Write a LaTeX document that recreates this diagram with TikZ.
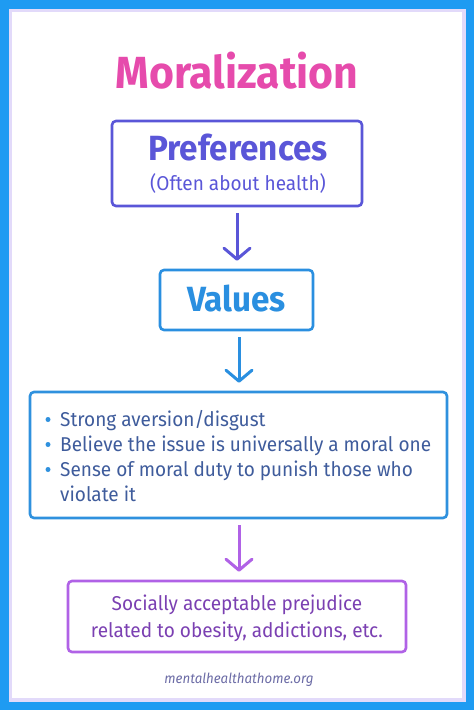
\documentclass[tikz,border=0pt]{standalone}
\usepackage{fontspec}
\setmainfont{Fira Sans}[FakeStretch=0.95]
\usetikzlibrary{arrows.meta}
\definecolor{frameblue}{HTML}{1E9BF2}
\definecolor{framelav}{HTML}{E2DAFA}
\definecolor{titlepink}{HTML}{E64BAC}
\definecolor{indigo}{HTML}{5A56D8}
\definecolor{valblue}{HTML}{2A8FE0}
\definecolor{bulblue}{HTML}{2F91DE}
\definecolor{bultext}{HTML}{3F5C9C}
\definecolor{purp}{HTML}{B062E6}
\definecolor{purptext}{HTML}{7B40B2}
\definecolor{foot}{HTML}{6C6CA6}
\tikzset{
  box/.style={draw, line width=2.6pt, rounded corners=4pt, fill=white, inner sep=0pt},
  flow/.style={line width=3pt, -{Straight Barb[length=11pt,width=26pt,round]}, shorten <=6pt, shorten >=8pt},
  lbl/.style={anchor=base, inner sep=0pt},
  bul/.style={anchor=base west, inner sep=0pt, font=\fontsize{20}{25}\selectfont, text=bultext},
  dot/.style={circle, fill=bulblue, inner sep=0pt, minimum size=5pt}
}
\begin{document}
\begin{tikzpicture}[x=1pt,y=-1pt]
\useasboundingbox (0,0) rectangle (474,710);
\fill[frameblue] (0,0) rectangle (474,710);
\fill[framelav] (8.5,8.5) rectangle (465.5,701.5);
\fill[white] (12,12) rectangle (462,698);

\node[lbl, text=titlepink, font=\fontsize{45}{50}\selectfont\bfseries] (title) at (237,88) {Moralization};

\node[box, draw=indigo, minimum width=250pt, minimum height=85pt] (pref) at (237,163.5) {};
\node[lbl, text=indigo, font=\fontsize{35}{40}\selectfont\bfseries] (preft) at (238,160) {Preferences};
\node[lbl, text=indigo, font=\fontsize{20}{24}\selectfont] (prefs) at (238,190) {(Often about health)};

\node[box, draw=valblue, minimum width=153pt, minimum height=60pt] (values) at (236.5,300) {};
\node[lbl, text=valblue, font=\fontsize{35}{40}\selectfont\bfseries] (valuest) at (236.5,311) {Values};

\node[box, draw=bulblue, minimum width=417pt, minimum height=126pt] (bullets) at (238.5,455) {};
\node[dot] (b1) at (48,419.5) {};
\node[bul] (t1) at (60,426) {Strong aversion/disgust};
\node[dot] (b2) at (48,444.5) {};
\node[bul] (t2) at (60,451) {Believe the issue is universally a moral one};
\node[dot] (b3) at (48,469.5) {};
\node[bul] (t3) at (60,476) {Sense of moral duty to punish those who};
\node[bul] (t4) at (60,501) {violate it};

\node[box, draw=purp, minimum width=338pt, minimum height=71pt] (result) at (237,616.5) {};
\node[lbl, text=purptext, font=\fontsize{20}{24}\selectfont] (r1) at (237,610) {Socially acceptable prejudice};
\node[lbl, text=purptext, font=\fontsize{20}{24}\selectfont] (r2) at (237,637) {related to obesity, addictions, etc.};

\node[lbl, text=foot, font=\fontsize{14}{17}\selectfont\itshape] (footer) at (239,683) {mentalhealthathome.org};

\draw[flow, indigo] (pref.south) -- (pref.south |- values.north);
\draw[flow, valblue] ([xshift=2.5pt]values.south) -- ([xshift=2.5pt]values.south |- bullets.north);
\draw[flow, purp] ([xshift=0.5pt]bullets.south) -- ([xshift=0.5pt]bullets.south |- result.north);
\end{tikzpicture}
\end{document}
